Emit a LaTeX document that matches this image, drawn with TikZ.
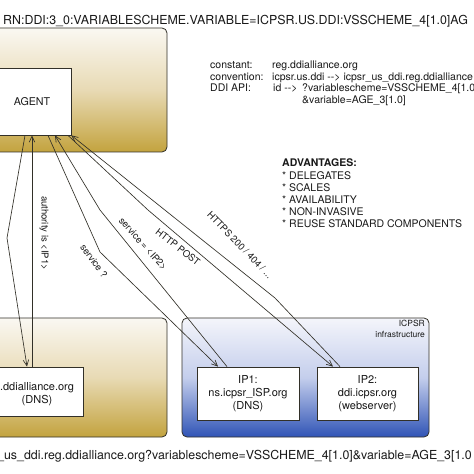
\documentclass[tikz,border=0pt]{standalone}
\usepackage{fontspec}
\setmainfont{TeX Gyre Heros}
\usetikzlibrary{arrows.meta}
\definecolor{goldtop}{RGB}{250,248,242}
\definecolor{goldmid}{RGB}{232,218,180}
\definecolor{goldbot}{RGB}{195,163,62}
\definecolor{bluetop}{RGB}{244,245,251}
\definecolor{bluemid}{RGB}{196,206,236}
\definecolor{bluebot}{RGB}{48,84,182}
\definecolor{ink}{RGB}{25,25,25}
\definecolor{edgec}{RGB}{50,48,40}
\newcommand\myfs[2]{\fontsize{#1bp}{#2bp}\selectfont}
\tikzset{
  panel/.style={draw=edgec, line width=0.8bp, rounded corners=5bp, inner sep=0pt},
  goldpanel/.style={panel, top color=goldtop, bottom color=goldbot, middle color=goldmid},
  bluepanel/.style={panel, top color=bluetop, bottom color=bluebot, middle color=bluemid},
  whitebox/.style={draw=edgec, line width=0.8bp, fill=white, inner sep=0pt, align=center, text=ink, font=\myfs{11}{13}},
  plain/.style={inner sep=0pt, text=ink},
  conn/.style={draw=edgec, line width=0.65bp},
  arr/.style={conn, -{Straight Barb[length=6bp,width=5.5bp]}},
  lbl/.style={inner sep=0pt, text=ink, font=\myfs{9.5}{11}},
}
\begin{document}
\begin{tikzpicture}[x=1bp,y=-1bp]
\useasboundingbox (0,0) rectangle (474,474);
\clip (0,0) rectangle (474,474);
\fill[white] (0,0) rectangle (474,474);

% panels
\node[goldpanel, minimum width=187bp, minimum height=124bp] (topgold) at (73.5,90) {};
\node[goldpanel, minimum width=187bp, minimum height=119bp] (botgold) at (73.5,377.5) {};
\node[bluepanel, minimum width=247bp, minimum height=119bp] (icpsr) at (305.5,377.5) {};
\node[plain, anchor=north east, align=right, font=\myfs{8.5}{11}] (icpsrlbl) at (425,320) {ICPSR\\infrastructure};

% boxes
\node[whitebox, minimum width=78bp, minimum height=67bp, font=\myfs{10.7}{13}] (agent) at (32,101.5) {AGENT};
\node[whitebox, minimum width=92bp, minimum height=49bp] (dns) at (37,391.5) {\mbox{}\\.ddialliance.org\\(DNS)};
\node[whitebox, minimum width=102bp, minimum height=53bp] (ip1) at (248,393.5) {IP1:\\ns.icpsr\_ISP.org\\(DNS)};
\node[whitebox, minimum width=101bp, minimum height=53bp] (ip2) at (367.5,393.5) {IP2:\\ddi.icpsr.org\\(webserver)};

% texts
\node[plain, anchor=base west, font=\myfs{12.4}{14}] (title) at (3,25) {RN:DDI:3\_0:VARIABLESCHEME.VARIABLE=ICPSR.US.DDI:VSSCHEME\_4[1.0]AG};
\node[plain, anchor=base west, font=\myfs{12.4}{14}] (url) at (-3,459) {\_us\_ddi.reg.ddialliance.org?variablescheme=VSSCHEME\_4[1.0]\&variable=AGE\_3[1.0};

\node[plain, anchor=base west, font=\myfs{10.5}{12}] (k1) at (210,69) {constant:};
\node[plain, anchor=base west, font=\myfs{10.5}{12}] (v1) at (272,69) {reg.ddialliance.org};
\node[plain, anchor=base west, font=\myfs{10.5}{12}] (k2) at (210,80.5) {convention:};
\node[plain, anchor=base west, font=\myfs{10.5}{12}] (v2) at (272,80.5) {icpsr.us.ddi -{}-> icpsr\_us\_ddi.reg.ddialliance};
\node[plain, anchor=base west, font=\myfs{10.5}{12}] (k3) at (210,92) {DDI API:};
\node[plain, anchor=base west, font=\myfs{10.5}{12}] (v3) at (273,92) {id -{}->};
\node[plain, anchor=base west, font=\myfs{10.5}{12}] (v3b) at (302,92) {?variablescheme=VSSCHEME\_4[1.0]};
\node[plain, anchor=base west, font=\myfs{10.5}{12}] (v4) at (302,103.5) {\&variable=AGE\_3[1.0]};

\node[plain, anchor=north west, align=left, font=\myfs{10.5}{12.2}] (adv) at (282,159) {\textbf{ADVANTAGES:}\\* DELEGATES\\* SCALES\\* AVAILABILITY\\* NON-INVASIVE\\* REUSE STANDARD COMPONENTS};

% connectors
\draw[arr] ([xshift=-7bp]agent.south) -- (7,238) -- ([xshift=-10bp]dns.north);
\draw[arr] (agent.south |- dns.north) -- (agent.south);
\draw[arr] ([xshift=16bp]agent.south) -- (100,252) -- ([xshift=-30bp]ip1.north);
\draw[arr] ([xshift=-21bp]ip1.north) -- (100,210) -- ([xshift=23bp]agent.south);
\draw[arr] ([xshift=36bp]agent.south) -- (148,210) -- ([xshift=-34.5bp]ip2.north);
\draw[arr] ([xshift=-27.5bp]ip2.north) -- (275,298) -- (agent.south east);

% labels
\node[lbl, rotate=-90] (l1) at (44,233) {authority is <IP1>};
\node[lbl, rotate=-54] (l2) at (94,261) {service ?};
\node[lbl, rotate=-48] (l3) at (143,244) {service = <IP2>};
\node[lbl, rotate=-38] (l4) at (178,247) {HTTP POST};
\node[lbl, rotate=-46] (l5) at (240,245) {HTTPS 200 / 404 / ...};
\end{tikzpicture}
\end{document}
